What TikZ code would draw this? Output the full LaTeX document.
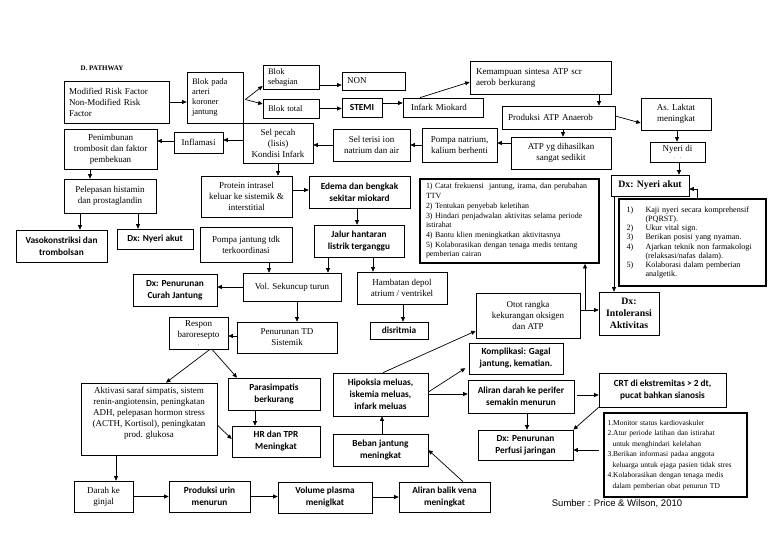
\documentclass[tikz,border=0pt]{standalone}
\usepackage{fontspec}
\setmainfont{Liberation Serif}
\newfontfamily\carl{Carlito}
\newfontfamily\arialf{Liberation Sans}
\usetikzlibrary{arrows.meta}
\newcommand\itm[1]{\makebox[19pt][l]{#1}}
\newcommand\hind{\hspace*{19pt}}
\begin{document}
\begin{tikzpicture}[x=1pt,y=-1pt,
  every node/.style={inner sep=1pt},
  box/.style={draw, line width=0.7pt, align=center, font=\fontsize{9}{11}\selectfont},
  bsans/.style={box, font=\carl\bfseries\fontsize{9.3}{12}\selectfont},
  bserif/.style={box, font=\bfseries\fontsize{9.8}{12}\selectfont},
  ibox/.style={draw, line width=1.8pt, align=left},
  wh/.style 2 args={minimum width=#1pt, minimum height=#2pt},
  arr/.style={-{Triangle[length=4.5pt,width=4pt]}, line width=0.7pt},
]
\fill[white] (0,0) rectangle (768,543);
\useasboundingbox (0,0) rectangle (768,543);

\node[font=\bfseries\fontsize{7}{8}\selectfont] (title) at (102,68) {D. PATHWAY};

\node[box, wh={105}{42}, align=left, text width=95pt] (mrf) at (116.5,102) {Modified Risk Factor\\Non-Modified Risk\\Factor};
\node[box, wh={56}{51}, align=left, text width=46pt, font=\fontsize{8.5}{10}\selectfont] (blok) at (215,97.5) {Blok pada\\arteri\\koroner\\jantung};
\node[box, wh={56}{24}, align=left, text width=46pt, font=\fontsize{8.5}{10}\selectfont] (bseb) at (291,77) {Blok\\sebagian};
\node[box, wh={56}{19}, align=left, text width=46pt, font=\fontsize{8.5}{10}\selectfont] (btot) at (291,108.5) {Blok total};
\node[box, wh={63}{18}, align=left, text width=53pt] (non) at (373.5,81) {NON};
\node[bsans, wh={40}{19}] (stemi) at (362,107.5) {STEMI};
\node[box, wh={80}{19}, align=left, text width=64pt] (infark) at (443,107.5) {Infark Miokard};
\node[box, wh={141}{33}, align=left, text width=129pt] (kemamp) at (540.5,77.5) {Kemampuan sintesa ATP scr\\aerob berkurang};
\node[box, wh={113}{23}, align=left, text width=101pt] (prodatp) at (558.5,117.5) {Produksi ATP Anaerob};
\node[box, wh={70}{32}] (laktat) at (676,114) {As. Laktat\\meningkat};
\node[box, wh={100}{32}] (atpyg) at (561,153) {ATP yg dihasilkan\\sangat sedikit};
\node[box, wh={55}{20}] (nyeridi) at (677.5,152) {Nyeri di\\[-4pt]{\fontsize{5}{5}\selectfont .\hspace{5pt}.}};
\node[bserif, wh={78}{21}] (dxnyeri2) at (650,185.5) {Dx: Nyeri akut};
\node[box, wh={75}{34}] (pompan) at (459.5,145) {Pompa natrium,\\kalium berhenti};
\node[box, wh={77}{32}] (selter) at (371.5,145) {Sel terisi ion\\natrium dan air};
\node[box, wh={70}{40}] (selpecah) at (278,143) {Sel pecah\\(lisis)\\Kondisi Infark};
\node[box, wh={49}{21}] (inflam) at (198.5,142.5) {Inflamasi};
\node[box, wh={93}{40}] (penimb) at (110.5,149) {Penimbunan\\trombosit dan faktor\\pembekuan};
\node[box, wh={92}{34}] (pelepas) at (110,196) {Pelepasan histamin\\dan prostaglandin};
\node[bsans, wh={91}{32}] (vaso) at (61.5,246) {Vasokonstriksi dan\\trombolsan};
\node[bsans, wh={76}{20}] (dxnyeri1) at (155,239) {Dx: Nyeri akut};
\node[box, wh={91}{41}] (protein) at (246.5,196.5) {Protein intrasel\\keluar ke sistemik \&\\interstitial};
\node[bsans, wh={101}{32}] (edema) at (359.5,192) {Edema dan bengkak\\sekitar miokard};
\node[bsans, wh={90}{32}] (jalur) at (359,241) {Jalur hantaran\\listrik terganggu};
\node[box, wh={92}{35}] (pompaj) at (246,244.5) {Pompa jantung tdk\\terkoordinasi};
\node[box, wh={98}{28}] (vol) at (292,287) {Vol. Sekuncup turun};
\node[bsans, wh={84}{32}] (dxcurah) at (175,290) {Dx: Penurunan\\Curah Jantung};
\node[box, wh={90}{32}] (hambat) at (402,288) {Hambatan depol\\atrium / ventrikel};
\node[bsans, wh={58}{17}] (disrit) at (399,330.5) {disritmia};
\node[box, wh={100}{31}] (pentd) at (287,337.5) {Penurunan TD\\Sistemik};
\node[box, wh={59}{32}] (respon) at (198.5,333) {Respon\\baroresepto\\[-3pt]{\fontsize{5}{5}\selectfont ,}};
\node[draw, line width=0.7pt, wh={136}{72}] (aktiv) at (149,419) {};
\node[box, draw=none, anchor=north] (aktivt) at (149,386) {Aktivasi saraf simpatis, sistem\\renin-angiotensin, peningkatan\\ADH, pelepasan hormon stress\\(ACTH, Kortisol), peningkatan\\prod. glukosa};
\node[bsans, wh={92}{32}] (parasimp) at (274,394) {Parasimpatis\\berkurang};
\node[bsans, wh={88}{31}] (hrtpr) at (276,441.5) {HR dan TPR\\Meningkat};
\node[box, wh={59}{31}] (darah) at (103.5,496.5) {Darah ke\\ginjal};
\node[bsans, wh={81}{31}] (produrin) at (209.5,496.5) {Produksi urin\\menurun};
\node[bsans, wh={94}{31}] (volplas) at (325,497.5) {Volume plasma\\meniglkat};
\node[bsans, wh={91}{30}] (alirbalik) at (444.5,497) {Aliran balik vena\\meningkat};
\node[bsans, wh={95}{32}] (beban) at (380.5,450) {Beban jantung\\meningkat};
\node[bsans, wh={95}{43}] (hipoks) at (380.5,394.5) {Hipoksia meluas,\\iskemia meluas,\\infark meluas};
\node[box, wh={104}{45}] (otot) at (528,315.5) {Otot rangka\\kekurangan oksigen\\dan ATP};
\node[bsans, wh={94}{31}] (kompl) at (516,358.5) {Komplikasi: Gagal\\jantung, kematian.};
\node[bsans, wh={106}{33}] (alirdarah) at (521,396.5) {Aliran darah ke perifer\\semakin menurun};
\node[bsans, wh={127}{34}] (crt) at (662.5,390) {CRT di ekstremitas > 2 dt,\\pucat bahkan sianosis};
\node[bsans, wh={95}{30}] (dxperf) at (525.5,445) {Dx: Penurunan\\Perfusi jaringan};
\node[bserif, wh={60}{43}] (dxintol) at (629,313.5) {Dx:\\Intoleransi\\Aktivitas};

\node[ibox, wh={179}{84}, text width=167pt, font=\fontsize{7.9}{9.7}\selectfont] (interv1) at (509.5,221) {1) Catat frekuensi\ \ jantung, irama, dan perubahan\\TTV\\2) Tentukan penyebab keletihan\\3) Hindari penjadwalan aktivitas selama periode\\istirahat\\4) Bantu klien meningkatkan aktivitasnya\\5) Kolaborasikan dengan tenaga medis tentang\\pemberian cairan};
\node[ibox, wh={147}{87}, text width=132pt, font=\fontsize{8.1}{9.1}\selectfont] (interv2) at (692.5,242.5) {\itm{1)}Kaji nyeri secara komprehensif\\\hind(PQRST).\\\itm{2)}Ukur vital sign.\\\itm{3)}Berikan posisi yang nyaman.\\\itm{4)}Ajarkan teknik non farmakologi\\\hind(relaksasi/nafas dalam).\\\itm{5)}Kolaborasi dalam pemberian\\\hind analgetik.};
\node[ibox, wh={143}{84}, text width=136pt, font=\fontsize{7.5}{10.5}\selectfont] (interv3) at (675.5,455) {1.Monitor status kardiovaskuler\\\makebox[133pt][s]{2.Atur periode latihan dan istirahat}\\\hspace*{5pt}untuk menghindari kelelahan\\\makebox[133pt][s]{3.Berikan informasi padaa anggota}\\\hspace*{5pt}keluarga untuk ejaga pasien tidak stres\\\makebox[133pt][s]{4.Kolaborasikan dengan tenaga medis}\\\hspace*{5pt}dalam pemberian obat penurun TD};

\node[font=\arialf\fontsize{9.5}{11}\selectfont] (sumber) at (617,504) {Sumber : Price \& Wilson, 2010};

% connectors
\draw[arr] (mrf.east) -- (mrf.east -| blok.west);
\draw[arr] ([shift={(2pt,-2pt)}]blok.east) -- ([yshift=-9pt]bseb.west);
\draw[arr] ([shift={(2pt,-2pt)}]blok.east) -- ([yshift=4.5pt]btot.west);
\draw[arr] (bseb.east |- 0,85) -- (non.west |- 0,85);
\draw[arr] (btot.east) -- (btot.east -| stemi.west);
\draw[arr] (stemi.east |- 0,103) -- (infark.west |- 0,103);
\draw[arr] (infark.north -| 420,0) -- ([yshift=-4.5pt]kemamp.west);
\draw[arr] (kemamp.south -| 599,0) -- (prodatp.north -| 599,0);
\draw[arr] (prodatp.east |- 0,116) -- (laktat.west |- 0,123);
\draw[arr] (prodatp.south -| 563,0) -- (atpyg.north -| 563,0);
\draw[arr] (laktat.south -| 677,0) -- (nyeridi.north -| 677,0);
\draw[arr] (nyeridi.south -| 679,0) -- (dxnyeri2.north -| 679,0);
\draw[arr] (atpyg.west |- 0,143) -- (pompan.east |- 0,143);
\draw[arr] (pompan.west) -- (pompan.west -| selter.east);
\draw[arr] (selter.west) -- (selter.west -| selpecah.east);
\draw[arr] (selpecah.west |- 0,140) -- (inflam.east |- 0,140);
\draw[arr] (inflam.west |- 0,141) -- (penimb.east |- 0,141);
\draw[arr] (penimb.south -| 90,0) -- (pelepas.north -| 90,0);
\draw[arr] (pelepas.south -| 80,0) -- (vaso.north -| 80,0);
\draw[arr] (pelepas.south -| 138,0) -- (dxnyeri1.north -| 138,0);
\draw[arr] (selpecah.south) -- (selpecah.south |- protein.north);
\draw[arr] (protein.east |- 0,190) -- (edema.west |- 0,190);
\draw[arr] (edema.south -| 357,0) -- (jalur.north -| 357,0);
\draw[arr] (pompaj.south -| 269,0) -- (vol.north -| 269,0);
\draw[arr] (jalur.south -| 328,0) -- (vol.north -| 328,0);
\draw[arr] (jalur.south -| 373,0) -- (hambat.north -| 373,0);
\draw[arr] (vol.west) -- (vol.west -| dxcurah.east);
\draw[arr] (hambat.south -| 403,0) -- (disrit.north -| 403,0);
\draw[arr] (vol.south -| 297,0) -- (pentd.north -| 297,0);
\draw[arr] (pentd.west |- 0,336) -- (respon.east |- 0,336);
\draw[arr] (respon.south -| 210,0) -- (aktiv.north -| 166,0);
\draw[arr] (respon.south -| 212,0) -- (parasimp.north -| 237,0);
\draw[arr] (parasimp.south -| 255,0) -- (hrtpr.north -| 255,0);
\draw[arr] (aktiv.east |- 0,425) -- (hrtpr.west |- 0,439);
\draw[arr] (aktiv.south -| 116,0) -- (darah.north -| 116,0);
\draw[arr] (darah.east) -- (darah.east -| produrin.west);
\draw[arr] (produrin.east) -- (produrin.east -| volplas.west);
\draw[arr] (volplas.east |- 0,497) -- (alirbalik.west |- 0,497);
\draw[arr] (alirbalik.north -| 463,0) -- (beban.east);
\draw[arr] (beban.north -| 382,0) -- (hipoks.south -| 382,0);
\draw[arr] (hipoks.north -| 383,0) -- (otot.west |- 0,331);
\draw[arr, shorten >=4pt] (hipoks.east |- 0,392) -- (kompl.west |- 0,366);
\draw[arr] (hipoks.east |- 0,394) -- (alirdarah.west |- 0,394);
\draw[arr, shorten <=3pt] (alirdarah.east |- 0,395) -- (crt.west |- 0,395);
\draw[arr] (alirdarah.south -| 527,0) -- (dxperf.north -| 527,0);
\draw[arr] (crt.south west) -- (dxperf.north east);
\draw[arr, shorten <=4pt] (interv3.west |- 0,450) -- (dxperf.east |- 0,450);
\draw[arr] (otot.east |- 0,310) -- (dxintol.west |- 0,310);
\coordinate (jn) at (585,310);
\draw[arr] (jn) -- (interv1.south -| jn);
\draw[arr] (dxnyeri2.south -| 614,0) -- (dxintol.north -| 614,0);
\draw[arr] (interv2.north -| 697,0) |- (dxnyeri2.east |- 0,189);
\end{tikzpicture}
\end{document}
